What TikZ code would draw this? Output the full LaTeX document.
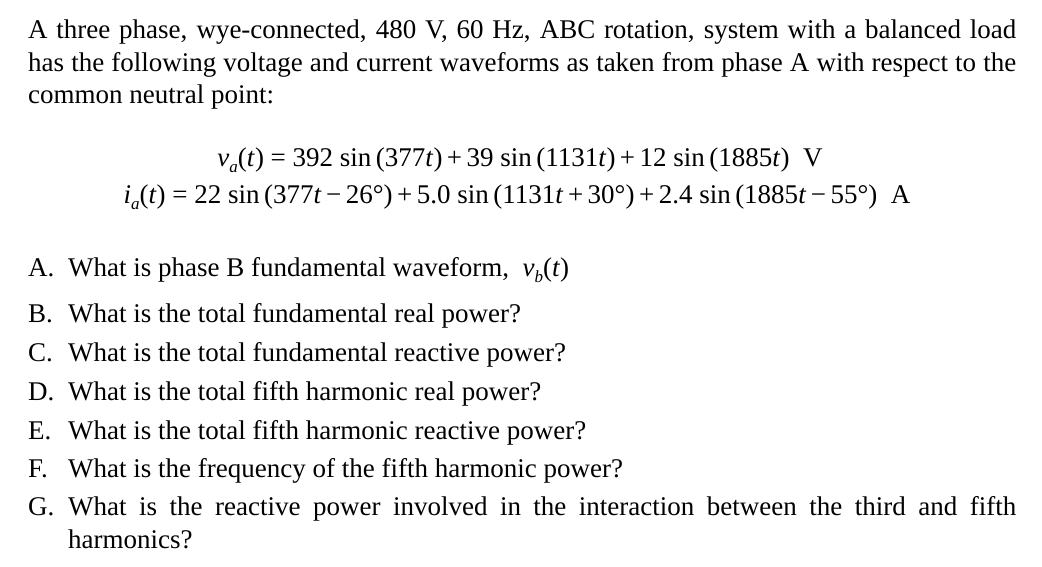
\documentclass[tikz,border=0pt]{standalone}
\usepackage{fontspec}
\setmainfont{Liberation Serif}
\usetikzlibrary{positioning}
\newcommand{\var}[2]{\textit{#1}\raisebox{-0.25em}{\fontsize{17}{17}\selectfont\textit{#2}}}
\newcommand{\mi}{\,\textminus\,}
\newcommand{\pl}{\,+\,}
\newcommand{\sn}{sin\,}

\begin{document}
\begin{tikzpicture}[x=1pt,y=1pt,
  txt/.style={anchor=base west,inner sep=0pt,font=\fontsize{27}{32}\selectfont},
  eqn/.style={anchor=base,inner sep=0pt,font=\fontsize{27}{32}\selectfont},
  item/.style={txt}]
\useasboundingbox (0,0) rectangle (1042,-566);

% paragraph
\node[txt] (l1) at (28,-38) {\makebox[988pt][s]{A three phase, wye-connected, 480 V, 60 Hz, ABC rotation, system with a balanced load}};
\node[txt] (l2) at (28,-71) {\makebox[988pt][s]{has the following voltage and current waveforms as taken from phase A with respect to the}};
\node[txt] (l3) at (28,-103) {common neutral point:};

% equations
\node[eqn] (e1) at (520,-166) {\var{v}{a}(\textit{t}) = 392 \sn(377\textit{t})\pl 39 \sn(1131\textit{t})\pl 12 \sn(1885\textit{t})\ \ V};
\node[eqn] (e2) at (517,-203) {\var{i}{a}(\textit{t}) = 22 \sn(377\textit{t}\mi 26°)\pl 5.0 \sn(1131\textit{t}\pl 30°)\pl 2.4 \sn(1885\textit{t}\mi 55°)\ \ A};

% questions
\foreach \lab/\q/\y in {
  A./{What is phase B fundamental waveform, \ \var{v}{b}(\textit{t})}/276,
  B./{What is the total fundamental real power?}/322,
  C./{What is the total fundamental reactive power?}/361,
  D./{What is the total fifth harmonic real power?}/400,
  E./{What is the total fifth harmonic reactive power?}/439,
  F./{What is the frequency of the fifth harmonic power?}/477}{
  \node[item] at (28,-\y) {\lab};
  \node[item] at (68,-\y) {\q};
}
\node[item] (g) at (28,-515) {G.};
\node[item] (g1) at (68,-515) {\makebox[948pt][s]{What is the reactive power involved in the interaction between the third and fifth}};
\node[item] (g2) at (68,-548) {harmonics?};
\end{tikzpicture}
\end{document}
